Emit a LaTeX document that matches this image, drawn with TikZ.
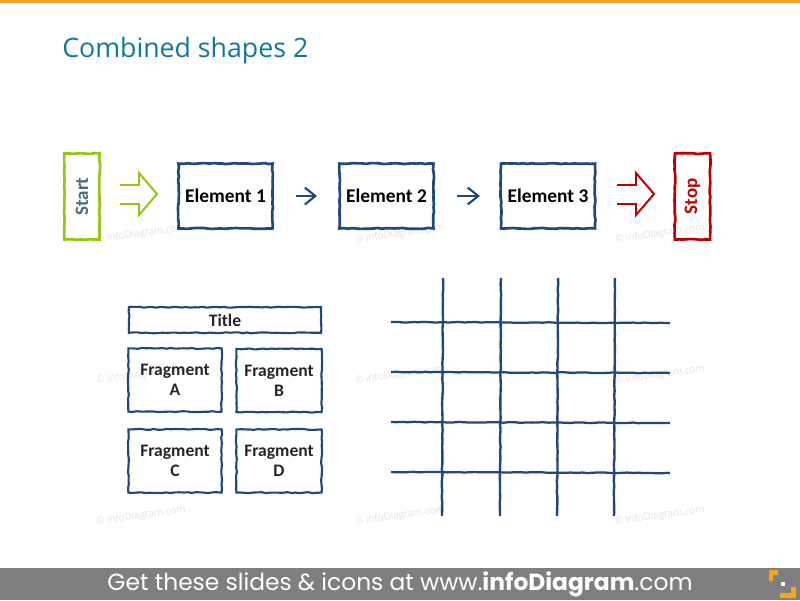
\documentclass[tikz,border=0pt]{standalone}
\usepackage{fontspec}
\setmainfont{Carlito}
\newfontfamily\titlefont{Open Sans}
\newfontfamily\footfont{Poppins}
\usetikzlibrary{positioning,arrows.meta,decorations.pathmorphing}
\definecolor{sketchblue}{RGB}{31,73,125}
\definecolor{startgreen}{RGB}{146,200,20}
\definecolor{stopred}{RGB}{192,0,0}
\definecolor{startgray}{RGB}{76,106,128}
\definecolor{titleblue}{RGB}{16,120,160}
\definecolor{barorange}{RGB}{245,165,30}
\definecolor{bargray}{RGB}{127,127,127}

\begin{document}
\begin{tikzpicture}[x=0.025cm,y=-0.025cm,
  sketch/.style={draw,line width=1.9pt,decorate,decoration={random steps,segment length=3pt,amplitude=0.35pt}},
  elem/.style={sketch,draw=sketchblue,minimum width=2.35cm,minimum height=1.62cm,font=\fontsize{13.8}{15}\selectfont\bfseries},
  frag/.style={sketch,draw=sketchblue,line width=1.5pt,minimum height=1.58cm,align=center,font=\fontsize{12.5}{14.5}\selectfont\bfseries,text=black!85},
  endbox/.style={sketch,minimum width=0.88cm,minimum height=2.15cm},
  smallarrow/.style={sketchblue,line width=1.5pt,-{Straight Barb[length=7.5pt,width=12pt]}},
  wmark/.style={text=gray!22,font=\titlefont\fontsize{7}{8}\selectfont,rotate=8}]
  \useasboundingbox[fill=white] (0,0) rectangle (800,600);
  % balken oben und unten
  \fill[barorange] (0,0) rectangle (800,3);
  \fill[bargray] (0,568) rectangle (800,600);
  \node[text=white,font=\footfont\fontsize{16.6}{18}\selectfont] (foot) at (400,584) {Get these slides \& icons at www.\textbf{infoDiagram}.com};
  \fill[barorange] (769,570) -- (778,570) -- (778,575) -- (773,575) -- (773,581) -- (769,581) -- cycle;
  \fill[barorange] (791,587) -- (796,587) -- (796,598) -- (780,598) -- (780,593) -- (791,593) -- cycle;
  \fill[white] (781,582) rectangle (785,586);
  % wasserzeichen
  \foreach \x in {141,400,660}
    \foreach \y in {234,375,516}
      \node[wmark] at (\x,\y) {© infoDiagram.com};
  % titel
  \node[anchor=base west,text=titleblue,font=\titlefont\fontsize{19}{22}\selectfont,inner sep=0pt] (head) at (62,57) {Combined shapes 2};
  % prozesskette
  \node[endbox,draw=startgreen,text=startgray,font=\fontsize{13.5}{15}\selectfont\bfseries] (start) at (82,196.5) {\rotatebox{90}{Start}};
  \node[elem] (e1) at (225.5,196) {Element 1};
  \node[elem] (e2) at (386.5,196) {Element 2};
  \node[elem] (e3) at (548,196) {Element 3};
  \node[endbox,draw=stopred,text=stopred,font=\fontsize{13.5}{15}\selectfont\bfseries] (stop) at (692.5,196.5) {\rotatebox{90}{Stop}};
  \draw[smallarrow,shorten <=15.5pt,shorten >=15pt] (e1) -- (e2);
  \draw[smallarrow,shorten <=16pt,shorten >=14pt] (e2) -- (e3);
  % hohle blockpfeile
  \foreach \x/\c in {120/startgreen,617/stopred}
    \draw[\c,line width=1.4pt,line join=miter] (\x,185) -- ++(19,0) -- ++(0,-12) -- ++(18,21) -- ++(-18,21) -- ++(0,-11) -- ++(-19,0);
  % titel mit fragmenten
  \node[frag,minimum width=4.8cm,minimum height=0.64cm] (ttl) at (225,320) {Title};
  \node[frag,minimum width=2.33cm] (fa) at (175,380) {Fragment\\A};
  \node[frag,minimum width=2.13cm] (fb) at (279,380.5) {Fragment\\B};
  \node[frag,minimum width=2.33cm] (fc) at (175,461) {Fragment\\C};
  \node[frag,minimum width=2.13cm] (fd) at (279,461) {Fragment\\D};
  % gitter
  \foreach \y in {322,372,422,472}
    \draw[sketchblue,line width=1.6pt,decorate,decoration={random steps,segment length=4pt,amplitude=0.25pt}] (391,\y) -- (670,\y+1);
  \foreach \x in {443,501,558,615}
    \draw[sketchblue,line width=1.7pt,decorate,decoration={random steps,segment length=4pt,amplitude=0.25pt}] (\x,278) -- (\x-1,516);
\end{tikzpicture}
\end{document}
